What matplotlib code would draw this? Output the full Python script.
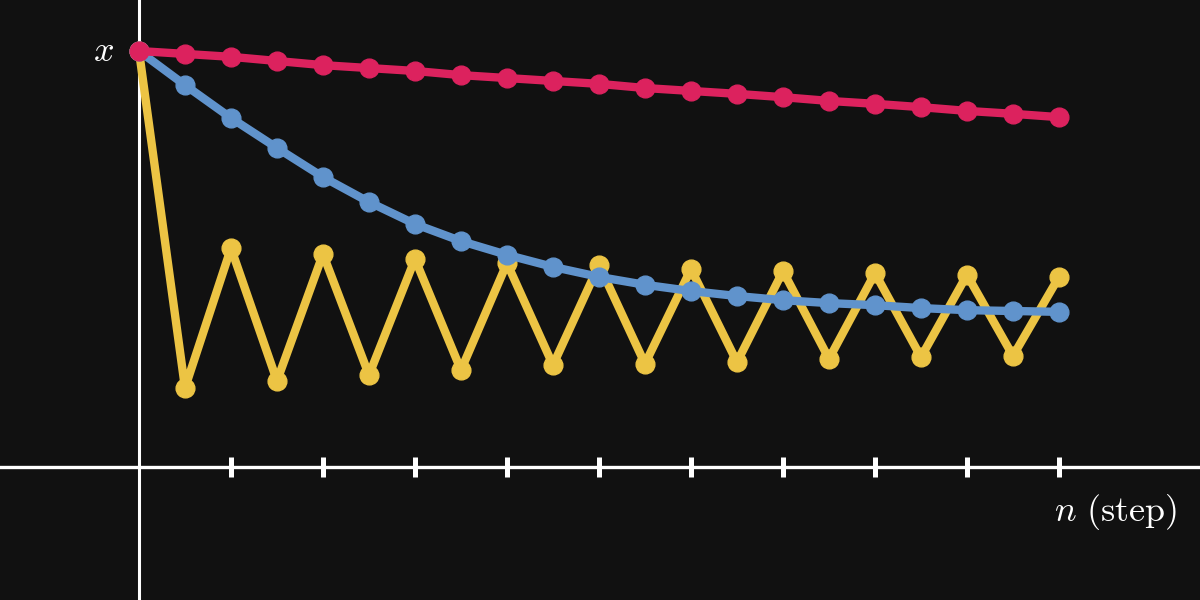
import matplotlib
matplotlib.use("Agg")
import matplotlib.pyplot as plt

plt.rcParams['mathtext.fontset'] = 'cm'
plt.rcParams['font.family'] = 'DejaVu Serif'

# step number and the value x_n (relative to the starting value)
steps = list(range(21))
slow = [1.000, 0.993, 0.986, 0.976, 0.966, 0.959, 0.952, 0.942, 0.935, 0.928, 0.921,
        0.911, 0.904, 0.897, 0.889, 0.880, 0.873, 0.865, 0.856, 0.849, 0.841]
good = [1.000, 0.918, 0.839, 0.767, 0.697, 0.637, 0.584, 0.543, 0.510, 0.481, 0.457,
        0.438, 0.423, 0.411, 0.401, 0.394, 0.389, 0.382, 0.377, 0.375, 0.373]
oscillating = [1.000, 0.190, 0.526, 0.207, 0.512, 0.221, 0.500, 0.233, 0.490, 0.245, 0.486,
               0.248, 0.476, 0.252, 0.471, 0.260, 0.466, 0.264, 0.462, 0.267, 0.457]
tick_steps = [2, 4, 6, 8, 10, 12, 14, 16, 18, 20]

bg = '#111111'
fig = plt.figure(figsize=(12, 6), dpi=100, facecolor=bg)
ax = fig.add_axes([0, 0, 1, 1], facecolor=bg)
ax.set_xlim(-3.0217, 23.065)
ax.set_ylim(-0.3197, 1.1226)
ax.axis('off')

ax.axhline(0, color='white', lw=2.4, zorder=1)
ax.axvline(0, color='white', lw=2.2, zorder=1)
ax.plot(tick_steps, [0] * len(tick_steps), linestyle='none', marker='|',
        markersize=14, mew=3.6, color='white', zorder=1)

ax.plot(steps, oscillating, color='#ECC444', lw=6, marker='o', ms=13.5, zorder=2)
ax.plot(steps, good, color='#6093CC', lw=6, marker='o', ms=13.5, zorder=3)
ax.plot(steps, slow, color='#DC225E', lw=6, marker='o', ms=13.5, zorder=4)

ax.text(-0.78, 1.0, r'$x$', color='white', fontsize=26, ha='center', va='center')
ax.text(21.22, -0.108, r'$n\ \mathrm{(step)}$', color='white', fontsize=26,
        ha='center', va='center')

fig.savefig('out.png', dpi=100, facecolor=bg)
